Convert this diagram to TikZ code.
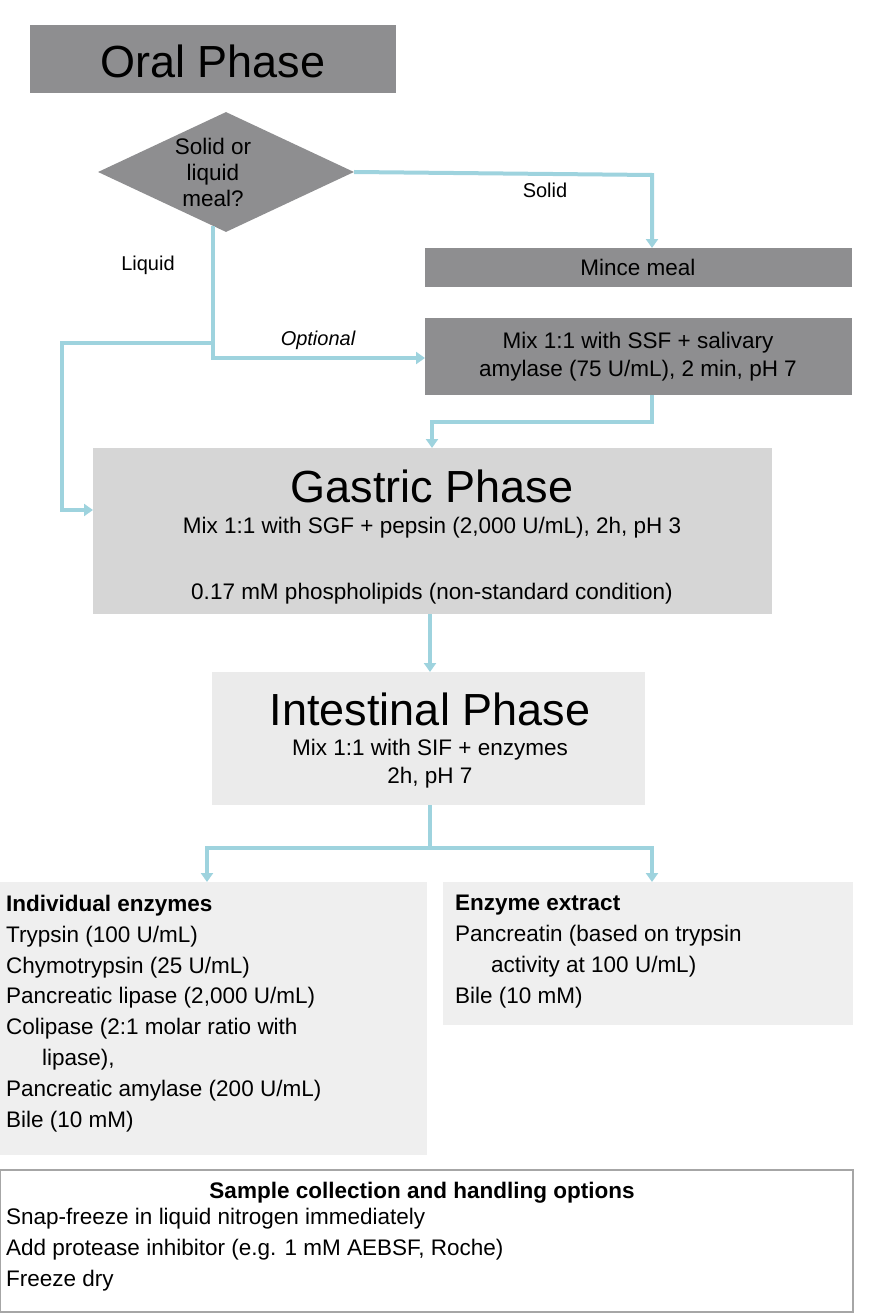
\documentclass[tikz,border=0pt]{standalone}
\usepackage{fontspec}
\setmainfont{Liberation Sans}
\usetikzlibrary{shapes.geometric,arrows.meta}
\definecolor{dark}{HTML}{8E8E90}
\definecolor{mid}{HTML}{D6D6D6}
\definecolor{light}{HTML}{EBEBEB}
\definecolor{pale}{HTML}{EFEFEF}
\definecolor{flow}{HTML}{9ED3DE}
\tikzset{
  box/.style={draw=none,inner sep=0pt,align=center},
  conn/.style={draw=flow,line width=4pt,-{Triangle[length=9pt,width=12pt]}},
  line/.style={draw=flow,line width=4pt},
  body/.style={font=\fontsize{22.5}{28}\selectfont},
  big/.style={font=\fontsize{45}{50}\selectfont},
  lbl/.style={font=\fontsize{20}{24}\selectfont},
  list/.style={align=left,anchor=north west,inner sep=0pt,font=\fontsize{22.5}{30.8}\selectfont}
}
\begin{document}
\begin{tikzpicture}[x=1pt,y=-1pt]
\useasboundingbox (0,0) rectangle (894,1316);
% boxes
\fill[dark] (30,25) rectangle (396,93);
\node[box,big] (oral) at (213,61) {Oral Phase};
\node[diamond,fill=dark,minimum width=256pt,minimum height=120pt,inner sep=0pt,aspect=2.1] (dia) at (226,172) {};
\node[body,align=center,font=\fontsize{22.5}{26}\selectfont] at (213,172) {Solid or\\liquid\\meal?};
\fill[dark] (425,248) rectangle (852,287);
\node[body] (mince) at (638,267) {Mince meal};
\coordinate (minceT) at (652,248);
\coordinate (minceB) at (652,287);
\fill[dark] (425,318) rectangle (852,395);
\node[body,align=center] (mix) at (638,357) {Mix 1:1 with SSF + salivary\\amylase (75 U/mL), 2 min, pH 7};
\coordinate (mixT) at (652,318);
\coordinate (mixB) at (652,395);
\coordinate (mixL) at (425,358);
\fill[mid] (93,448) rectangle (772,614);
\node[box,big] (gas) at (432,486) {Gastric Phase};
\node[body] at (432,528) {Mix 1:1 with SGF + pepsin (2,000 U/mL), 2h, pH 3};
\node[body] at (432,594) {0.17 mM phospholipids (non-standard condition)};
\coordinate (gasT) at (432,448);
\coordinate (gasL) at (93,510);
\coordinate (gasB) at (430,614);
\fill[light] (212,672) rectangle (645,805);
\node[box,big] (int) at (430,709) {Intestinal Phase};
\node[body,align=center] at (430,764) {Mix 1:1 with SIF + enzymes\\2h, pH 7};
\coordinate (intT) at (430,672);
\coordinate (intB) at (430,805);
\fill[pale] (0,882) rectangle (427,1155);
\node[list] (ind) at (6,895) {\textbf{Individual enzymes}\\Trypsin (100 U/mL)\\Chymotrypsin (25 U/mL)\\Pancreatic lipase (2,000 U/mL)\\Colipase (2:1 molar ratio with\\\hspace*{1.6em}lipase),\\Pancreatic amylase (200 U/mL)\\Bile (10 mM)};
\fill[pale] (443,882) rectangle (853,1025);
\node[list] (ext) at (455,895) {\textbf{Enzyme extract}\\Pancreatin (based on trypsin\\\hspace*{1.6em}activity at 100 U/mL)\\Bile (10 mM)};
\draw[gray!70,line width=1.2pt] (0,1170) rectangle (853,1312);
\node[body,font=\fontsize{22.5}{28}\selectfont\bfseries] (samp) at (422,1193) {Sample collection and handling options};
\node[list] at (6,1208) {Snap-freeze in liquid nitrogen immediately\\Add protease inhibitor (e.g. 1 mM AEBSF, Roche)\\Freeze dry};
% connectors
\draw[conn] (dia.east) -- (652,175) -- (minceT);
\node[lbl] at (545,190) {Solid};
\draw[conn] (213,226) -- (213,358) -- (mixL);
\node[lbl] at (148,265) {Liquid};
\node[lbl,font=\fontsize{20}{24}\selectfont\itshape] at (318,340) {Optional};
\draw[conn] (213,343) -- (62,343) -- (62,510) -- (gasL);
\draw[conn] (mixB) -- (652,422) -- (432,422) -- (gasT);
\draw[conn] (gasB) -- (intT);
\draw[line] (intB) -- (430,848);
\draw[conn] (430,848) -- (207,848) -- (207,882);
\draw[conn] (430,848) -- (652,848) -- (652,882);
\end{tikzpicture}
\end{document}
